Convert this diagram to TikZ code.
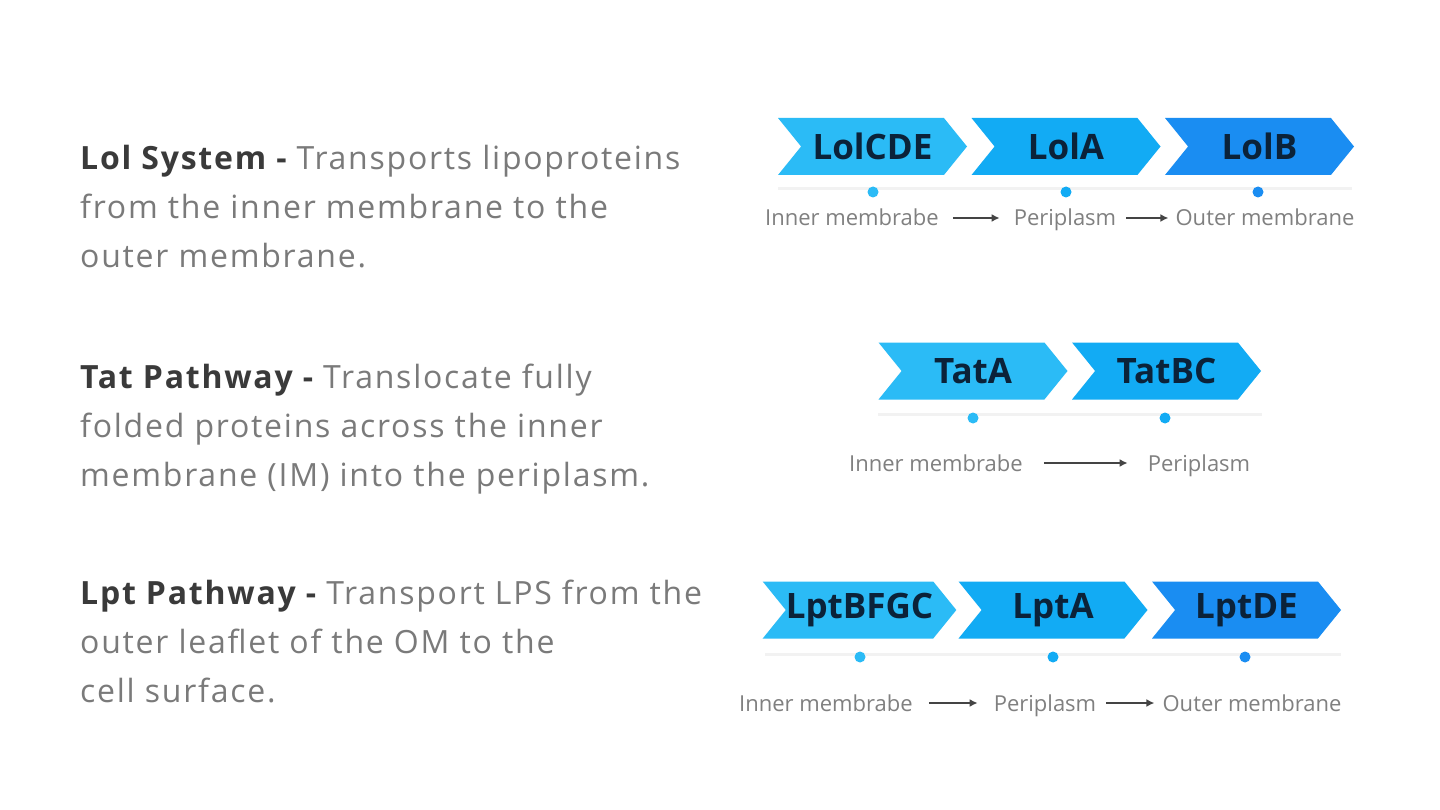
\documentclass[tikz,border=0pt]{standalone}
\usepackage{fontspec}
\setmainfont{Open Sans}
\newfontfamily\descfont[LetterSpace=5.5]{Open Sans}
\usetikzlibrary{shapes.symbols,arrows.meta}
\definecolor{cA}{HTML}{2BBBF6}
\definecolor{cB}{HTML}{12ABF4}
\definecolor{cC}{HTML}{1A8DF2}
\definecolor{navy}{HTML}{0B2239}
\definecolor{ttl}{HTML}{3A3A3A}
\definecolor{body}{HTML}{7A7A7A}
\definecolor{lbl}{HTML}{808080}
\definecolor{rule}{HTML}{F2F2F2}
\definecolor{arr}{HTML}{444444}
\begin{document}
\begin{tikzpicture}[x=1pt,y=-1pt,
  chev/.style={signal, signal from=west, signal to=east, signal pointer angle=102,
    minimum width=189pt, minimum height=57pt, inner sep=0pt, text=navy,
    font=\fontsize{35pt}{35pt}\selectfont\bfseries},
  desc/.style={anchor=north west, align=left, inner sep=0pt, text=body,
    font=\descfont\fontsize{32pt}{49pt}\selectfont},
  lab/.style={anchor=base, inner sep=0pt, text=lbl, font=\fontsize{22pt}{24pt}\selectfont},
  dot/.style={circle, inner sep=0pt, minimum size=11pt},
  railline/.style={line width=3pt, draw=rule},
  flow/.style={draw=arr, line width=2pt, -{Latex[length=8pt,width=8pt]}}
]
\useasboundingbox[fill=white] (0,0) rectangle (1440,810);

% ---------- left descriptions ----------
\node[desc] (lol) at (80,145) {\textcolor{ttl}{\bfseries Lol System -} Transports lipoproteins\\from the inner membrane to the\\outer membrane.};
\node[desc] (tat) at (80,364) {\textcolor{ttl}{\bfseries Tat Pathway -} Translocate fully\\folded proteins across the inner\\membrane (IM) into the periplasm.};
\node[desc] (lpt) at (80,580) {\textcolor{ttl}{\bfseries Lpt Pathway -} Transport LPS from the\\outer leaflet of the OM to the\\cell surface.};

% ---------- row 1 : Lol ----------
\coordinate (r1s) at (778,189);
\coordinate (r1e) at (1352,189);
\draw[railline] (r1s) -- (r1e);
\node[chev, fill=cA] (lolcde) at (872.5,146.5) {LolCDE};
\node[chev, fill=cB] (lola) at (1066,146.5) {LolA};
\node[chev, fill=cC] (lolb) at (1259.5,146.5) {LolB};
\node[dot, fill=cA] (d11) at (873,192) {};
\node[dot, fill=cB] (d12) at (1066,192) {};
\node[dot, fill=cC] (d13) at (1258,192) {};
\node[lab] (im1) at (852,226) {Inner membrabe};
\node[lab] (pp1) at (1065,226) {Periplasm};
\node[lab] (om1) at (1265,226) {Outer membrane};
\draw[flow, shorten <=14pt, shorten >=14pt] (im1.east |- 0,218) -- (pp1.west |- 0,218);
\draw[flow, shorten <=10pt, shorten >=7pt] (pp1.east |- 0,218) -- (om1.west |- 0,218);

% ---------- row 2 : Tat ----------
\coordinate (r2s) at (878,414);
\coordinate (r2e) at (1262,414);
\draw[railline] (r2s) -- (r2e);
\node[chev, fill=cA] (tata) at (973,371) {TatA};
\node[chev, fill=cB] (tatbc) at (1166.5,371) {TatBC};
\node[dot, fill=cA] (d21) at (973,418) {};
\node[dot, fill=cB] (d22) at (1165,418) {};
\node[lab] (im2) at (936,471) {Inner membrabe};
\node[lab] (pp2) at (1199,471) {Periplasm};
\draw[flow, shorten <=21pt, shorten >=20pt] (im2.east |- 0,463) -- (pp2.west |- 0,463);

% ---------- row 3 : Lpt ----------
\coordinate (r3s) at (765,654);
\coordinate (r3e) at (1341,654);
\draw[railline] (r3s) -- (r3e);
\node[chev, fill=cA] (lptbfgc) at (859.5,610) {LptBFGC};
\node[chev, fill=cB] (lpta) at (1053,610) {LptA};
\node[chev, fill=cC] (lptde) at (1246.5,610) {LptDE};
\node[dot, fill=cA] (d31) at (860,657) {};
\node[dot, fill=cB] (d32) at (1053,657) {};
\node[dot, fill=cC] (d33) at (1245,657) {};
\node[lab] (im3) at (826,711) {Inner membrabe};
\node[lab] (pp3) at (1045,711) {Periplasm};
\node[lab] (om3) at (1252,711) {Outer membrane};
\draw[flow, shorten <=16pt, shorten >=16pt] (im3.east |- 0,703) -- (pp3.west |- 0,703);
\draw[flow, shorten <=10pt, shorten >=8pt] (pp3.east |- 0,703) -- (om3.west |- 0,703);
\end{tikzpicture}
\end{document}
